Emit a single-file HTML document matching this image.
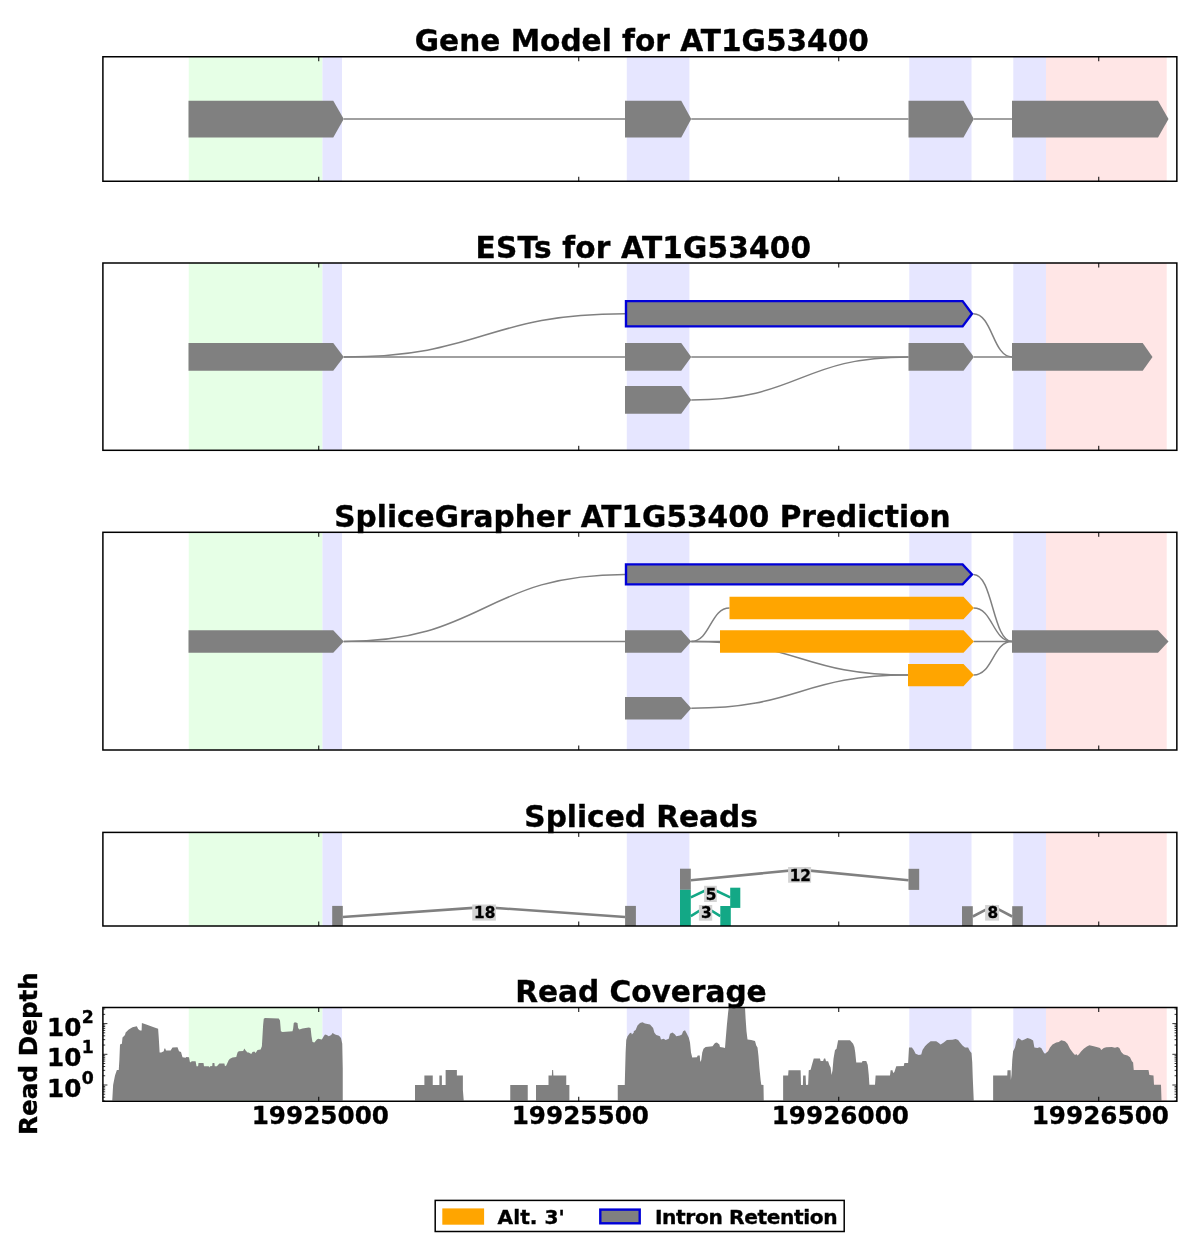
<!DOCTYPE html>
<html lang="en"><head><meta charset="utf-8"><title>SpliceGrapher AT1G53400</title>
<style>
html,body{margin:0;padding:0;background:#fff;}
body{width:1200px;height:1242px;overflow:hidden;}
svg{display:block;}
svg text{font-family:"DejaVu Sans","Liberation Sans",sans-serif;font-weight:bold;fill:#000;stroke:#000;stroke-width:0.35px;}
</style></head><body>
<svg width="1200" height="1242" viewBox="0 0 1200 1242">
<defs><clipPath id="c5"><rect x="102.9" y="1007.5" width="1073.95" height="93.75"/></clipPath></defs>
<rect width="1200" height="1242" fill="#fff"/>
<rect x="188.75" y="56.75" width="133.75" height="124.5" fill="#E6FFE6"/>
<rect x="322.5" y="56.75" width="19.5" height="124.5" fill="#E6E6FF"/>
<rect x="626.8" y="56.75" width="62.6" height="124.5" fill="#E6E6FF"/>
<rect x="909.3" y="56.75" width="62.2" height="124.5" fill="#E6E6FF"/>
<rect x="1013.3" y="56.75" width="32.7" height="124.5" fill="#E6E6FF"/>
<rect x="1046" y="56.75" width="120.7" height="124.5" fill="#FFE6E6"/>
<path d="M343.75 119.1 L625 119.1" stroke="#808080" stroke-width="1.5" fill="none"/>
<path d="M691.25 119.1 L908.5 119.1" stroke="#808080" stroke-width="1.5" fill="none"/>
<path d="M973.9 119.1 L1012 119.1" stroke="#808080" stroke-width="1.5" fill="none"/>
<polygon points="188.5,100.7 333.25,100.7 343.75,119.1 333.25,137.5 188.5,137.5" fill="#808080"/>
<polygon points="625,100.7 681.25,100.7 691.25,119.1 681.25,137.5 625,137.5" fill="#808080"/>
<polygon points="908.5,100.7 963.5,100.7 973.9,119.1 963.5,137.5 908.5,137.5" fill="#808080"/>
<polygon points="1012,100.7 1158,100.7 1168.5,119.1 1158,137.5 1012,137.5" fill="#808080"/>
<path d="M318.75 56.75 v4.5 M318.75 181.25 v-4.5" stroke="#000" stroke-width="1" fill="none"/>
<path d="M578.75 56.75 v4.5 M578.75 181.25 v-4.5" stroke="#000" stroke-width="1" fill="none"/>
<path d="M838.75 56.75 v4.5 M838.75 181.25 v-4.5" stroke="#000" stroke-width="1" fill="none"/>
<path d="M1098.75 56.75 v4.5 M1098.75 181.25 v-4.5" stroke="#000" stroke-width="1" fill="none"/>
<rect x="102.9" y="56.75" width="1073.95" height="124.5" fill="none" stroke="#000" stroke-width="1.5"/>
<text x="641.85" y="51.2" font-size="29.6" text-anchor="middle">Gene Model for AT1G53400</text>
<rect x="188.75" y="263" width="133.75" height="187.3" fill="#E6FFE6"/>
<rect x="322.5" y="263" width="19.5" height="187.3" fill="#E6E6FF"/>
<rect x="626.8" y="263" width="62.6" height="187.3" fill="#E6E6FF"/>
<rect x="909.3" y="263" width="62.2" height="187.3" fill="#E6E6FF"/>
<rect x="1013.3" y="263" width="32.7" height="187.3" fill="#E6E6FF"/>
<rect x="1046" y="263" width="120.7" height="187.3" fill="#FFE6E6"/>
<path d="M343.75 356.9 C484.38 356.9 484.38 313.75 625 313.75" stroke="#808080" stroke-width="1.5" fill="none"/>
<path d="M343.75 356.9 L625 356.9" stroke="#808080" stroke-width="1.5" fill="none"/>
<path d="M691.25 356.9 L908.5 356.9" stroke="#808080" stroke-width="1.5" fill="none"/>
<path d="M691.25 399.9 C799.88 399.9 799.88 356.9 908.5 356.9" stroke="#808080" stroke-width="1.5" fill="none"/>
<path d="M973.9 356.9 L1012 356.9" stroke="#808080" stroke-width="1.5" fill="none"/>
<path d="M973.3 313.75 C992.65 313.75 992.65 356.9 1012 356.9" stroke="#808080" stroke-width="1.5" fill="none"/>
<polygon points="188.5,343 333.25,343 343.75,356.9 333.25,370.8 188.5,370.8" fill="#808080"/>
<polygon points="625,343 681.25,343 691.25,356.9 681.25,370.8 625,370.8" fill="#808080"/>
<polygon points="625,386 681.25,386 691.25,399.9 681.25,413.8 625,413.8" fill="#808080"/>
<polygon points="908.5,343 963.5,343 973.9,356.9 963.5,370.8 908.5,370.8" fill="#808080"/>
<polygon points="1012,343 1142.7,343 1152.5,356.9 1142.7,370.8 1012,370.8" fill="#808080"/>
<polygon points="626,301.15 962.6,301.15 972,313.75 962.6,326.35 626,326.35" fill="#808080" stroke="#0000D8" stroke-width="2.4" stroke-linejoin="miter"/>
<path d="M318.75 263 v4.5 M318.75 450.3 v-4.5" stroke="#000" stroke-width="1" fill="none"/>
<path d="M578.75 263 v4.5 M578.75 450.3 v-4.5" stroke="#000" stroke-width="1" fill="none"/>
<path d="M838.75 263 v4.5 M838.75 450.3 v-4.5" stroke="#000" stroke-width="1" fill="none"/>
<path d="M1098.75 263 v4.5 M1098.75 450.3 v-4.5" stroke="#000" stroke-width="1" fill="none"/>
<rect x="102.9" y="263" width="1073.95" height="187.3" fill="none" stroke="#000" stroke-width="1.5"/>
<text x="475.6" y="257.6" font-size="29.6" textLength="335.6" lengthAdjust="spacing">ESTs for AT1G53400</text>
<rect x="188.75" y="532.3" width="133.75" height="217.7" fill="#E6FFE6"/>
<rect x="322.5" y="532.3" width="19.5" height="217.7" fill="#E6E6FF"/>
<rect x="626.8" y="532.3" width="62.6" height="217.7" fill="#E6E6FF"/>
<rect x="909.3" y="532.3" width="62.2" height="217.7" fill="#E6E6FF"/>
<rect x="1013.3" y="532.3" width="32.7" height="217.7" fill="#E6E6FF"/>
<rect x="1046" y="532.3" width="120.7" height="217.7" fill="#FFE6E6"/>
<path d="M343.75 641.5 C484.38 641.5 484.38 574.4 625 574.4" stroke="#808080" stroke-width="1.5" fill="none"/>
<path d="M343.75 641.5 L625 641.5" stroke="#808080" stroke-width="1.5" fill="none"/>
<path d="M691.25 641.5 C710.38 641.5 710.38 608 729.5 608" stroke="#808080" stroke-width="1.5" fill="none"/>
<path d="M691.25 641.5 L720 641.5" stroke="#808080" stroke-width="1.5" fill="none"/>
<path d="M691.25 641.5 C799.88 641.5 799.88 675.1 908.5 675.1" stroke="#808080" stroke-width="1.5" fill="none"/>
<path d="M691.25 708.25 C799.88 708.25 799.88 675.1 908.5 675.1" stroke="#808080" stroke-width="1.5" fill="none"/>
<path d="M973.6 574.4 C992.8 574.4 992.8 641.5 1012 641.5" stroke="#808080" stroke-width="1.5" fill="none"/>
<path d="M973.6 608 C992.8 608 992.8 641.5 1012 641.5" stroke="#808080" stroke-width="1.5" fill="none"/>
<path d="M973.6 675.1 C992.8 675.1 992.8 641.5 1012 641.5" stroke="#808080" stroke-width="1.5" fill="none"/>
<path d="M973.6 641.5 L1012 641.5" stroke="#808080" stroke-width="1.5" fill="none"/>
<polygon points="188.5,630.3 333.25,630.3 343.75,641.5 333.25,652.7 188.5,652.7" fill="#808080"/>
<polygon points="625,630.3 681.25,630.3 691.25,641.5 681.25,652.7 625,652.7" fill="#808080"/>
<polygon points="625,697.05 681.25,697.05 691.25,708.25 681.25,719.45 625,719.45" fill="#808080"/>
<polygon points="1012,630.3 1158,630.3 1168.5,641.5 1158,652.7 1012,652.7" fill="#808080"/>
<polygon points="729.5,596.8 963.5,596.8 973.9,608 963.5,619.2 729.5,619.2" fill="#FFA500"/>
<polygon points="720,630.3 963.5,630.3 973.9,641.5 963.5,652.7 720,652.7" fill="#FFA500"/>
<polygon points="908,663.9 963.5,663.9 973.9,675.1 963.5,686.3 908,686.3" fill="#FFA500"/>
<polygon points="626,564.4 962.6,564.4 972,574.4 962.6,584.4 626,584.4" fill="#808080" stroke="#0000D8" stroke-width="2.4" stroke-linejoin="miter"/>
<path d="M318.75 532.3 v4.5 M318.75 750 v-4.5" stroke="#000" stroke-width="1" fill="none"/>
<path d="M578.75 532.3 v4.5 M578.75 750 v-4.5" stroke="#000" stroke-width="1" fill="none"/>
<path d="M838.75 532.3 v4.5 M838.75 750 v-4.5" stroke="#000" stroke-width="1" fill="none"/>
<path d="M1098.75 532.3 v4.5 M1098.75 750 v-4.5" stroke="#000" stroke-width="1" fill="none"/>
<rect x="102.9" y="532.3" width="1073.95" height="217.7" fill="none" stroke="#000" stroke-width="1.5"/>
<text x="642.4" y="526.7" font-size="29.6" text-anchor="middle">SpliceGrapher AT1G53400 Prediction</text>
<rect x="188.75" y="832.4" width="133.75" height="93.6" fill="#E6FFE6"/>
<rect x="322.5" y="832.4" width="19.5" height="93.6" fill="#E6E6FF"/>
<rect x="626.8" y="832.4" width="62.6" height="93.6" fill="#E6E6FF"/>
<rect x="909.3" y="832.4" width="62.2" height="93.6" fill="#E6E6FF"/>
<rect x="1013.3" y="832.4" width="32.7" height="93.6" fill="#E6E6FF"/>
<rect x="1046" y="832.4" width="120.7" height="93.6" fill="#FFE6E6"/>
<path d="M342.7 917 L483.9 907.1 L625.1 917" stroke="#808080" stroke-width="2.6" fill="none" stroke-linejoin="miter"/>
<path d="M690.8 880.2 L799.65 869.6 L908.5 880.2" stroke="#808080" stroke-width="2.6" fill="none" stroke-linejoin="miter"/>
<path d="M972.8 916.5 L992.5 906.2 L1012.2 916.5" stroke="#808080" stroke-width="2.6" fill="none" stroke-linejoin="miter"/>
<path d="M690.8 897.4 L710.5 888 L730.2 897.4" stroke="#13A886" stroke-width="2.6" fill="none" stroke-linejoin="miter"/>
<path d="M690.8 916.2 L705.55 907 L720.3 916.2" stroke="#13A886" stroke-width="2.6" fill="none" stroke-linejoin="miter"/>
<rect x="332.2" y="905.9" width="10.6" height="20.1" fill="#808080"/>
<rect x="625.1" y="905.9" width="10.8" height="20.1" fill="#808080"/>
<rect x="680" y="868.7" width="10.8" height="21.1" fill="#808080"/>
<rect x="680" y="889.8" width="10.8" height="36.2" fill="#13A886"/>
<rect x="730.2" y="887.7" width="10.1" height="20.2" fill="#13A886"/>
<rect x="720.3" y="906" width="10.5" height="20" fill="#13A886"/>
<rect x="908.5" y="868.8" width="10.7" height="21.1" fill="#808080"/>
<rect x="962" y="906.2" width="10.8" height="19.8" fill="#808080"/>
<rect x="1012.2" y="906.2" width="10.6" height="19.8" fill="#808080"/>
<rect x="472.25" y="904.5" width="23.65" height="16.1" fill="#D3D3D3"/><text x="484.77" y="918" font-size="15.3" text-anchor="middle">18</text>
<rect x="788.1" y="867" width="23" height="15.75" fill="#D3D3D3"/><text x="800.3" y="880.9" font-size="15.3" text-anchor="middle">12</text>
<rect x="704.1" y="885.8" width="12.7" height="16.2" fill="#D3D3D3"/><text x="711.15" y="899.7" font-size="15.3" text-anchor="middle">5</text>
<rect x="698.9" y="905" width="13.3" height="15.7" fill="#D3D3D3"/><text x="706.25" y="918.3" font-size="15.3" text-anchor="middle">3</text>
<rect x="985.1" y="905" width="14" height="15.6" fill="#D3D3D3"/><text x="992.8" y="918" font-size="15.3" text-anchor="middle">8</text>
<path d="M318.75 832.4 v4.5 M318.75 926 v-4.5" stroke="#000" stroke-width="1" fill="none"/>
<path d="M578.75 832.4 v4.5 M578.75 926 v-4.5" stroke="#000" stroke-width="1" fill="none"/>
<path d="M838.75 832.4 v4.5 M838.75 926 v-4.5" stroke="#000" stroke-width="1" fill="none"/>
<path d="M1098.75 832.4 v4.5 M1098.75 926 v-4.5" stroke="#000" stroke-width="1" fill="none"/>
<rect x="102.9" y="832.4" width="1073.95" height="93.6" fill="none" stroke="#000" stroke-width="1.5"/>
<text x="641.1" y="826.8" font-size="29.6" text-anchor="middle">Spliced Reads</text>
<rect x="188.75" y="1007.5" width="133.75" height="93.75" fill="#E6FFE6"/>
<rect x="322.5" y="1007.5" width="19.5" height="93.75" fill="#E6E6FF"/>
<rect x="626.8" y="1007.5" width="62.6" height="93.75" fill="#E6E6FF"/>
<rect x="909.3" y="1007.5" width="62.2" height="93.75" fill="#E6E6FF"/>
<rect x="1013.3" y="1007.5" width="32.7" height="93.75" fill="#E6E6FF"/>
<rect x="1046" y="1007.5" width="120.7" height="93.75" fill="#FFE6E6"/>
<g clip-path="url(#c5)">
<path d="M112.25 1100.62 L113.12 1085 L115 1075.62 L116.88 1070 L118.75 1070 L119.38 1060 L120 1044.38 L121.88 1043.75 L122.5 1037.5 L125 1035 L125.62 1032.5 L128.75 1029.38 L132.5 1027.25 L136.88 1026.25 L138.12 1029 L140 1030.62 L141.62 1030.62 L141.88 1023.12 L146.25 1024.38 L153.75 1027.25 L158.12 1028.75 L158.75 1037.5 L159.62 1052.5 L161.25 1052.5 L163.75 1051.25 L164.38 1048.5 L165.25 1048.5 L166 1050.62 L170.62 1050.62 L172.5 1047.5 L177.5 1047.25 L179 1051.25 L181 1051.88 L182.5 1057.25 L185.62 1057.75 L186.25 1056.88 L189 1057.25 L190 1062.5 L191.88 1061.25 L195.62 1061.25 L196.5 1066.25 L198.12 1066.25 L198.5 1063.12 L203.5 1063.12 L204 1066.25 L208.75 1066.25 L209.38 1067.5 L210 1066.25 L212.25 1066 L212.5 1063.12 L214.38 1063.12 L214.75 1066.25 L216.88 1066.25 L219.38 1063.5 L224.38 1063.5 L225 1066.25 L226.25 1065.62 L228.75 1060 L230 1058.75 L232.5 1057.5 L236.25 1056.88 L237.5 1052.5 L238.75 1051.25 L243.12 1051 L244.38 1048.5 L245.62 1050.62 L247.5 1052.5 L248.75 1052.5 L251.25 1054 L252.5 1051.88 L254.38 1051.5 L255.62 1053.12 L257.5 1050 L260.62 1049.38 L261.88 1046.25 L263.12 1025 L263.75 1018.75 L265 1018.12 L278.75 1018.5 L280 1020.62 L280.88 1031.25 L282.5 1031.88 L292.5 1031.25 L293.12 1028.75 L293.75 1023.12 L295 1022.25 L297.5 1023.12 L298.12 1028.12 L299.38 1029.38 L302.5 1028.5 L308.75 1027.5 L310.62 1028.12 L311.5 1036.25 L312.5 1041.88 L314.38 1042.5 L316.88 1039.38 L318.12 1038.75 L321.88 1039.38 L323.75 1036.25 L325 1034.38 L326.88 1035 L328.75 1036.25 L331.25 1035 L332.5 1033.12 L335 1034.38 L338.75 1035.62 L341 1038.12 L342.25 1043.75 L342.75 1068.75 L342.75 1100.62 Z" fill="#808080"/>
<path d="M415 1100.62 L415 1085 L424.38 1085 L424.38 1075.62 L432.75 1075.62 L432.75 1085 L439.38 1085 L439.38 1075.62 L441.88 1075.62 L441.88 1085 L445.62 1085 L445.62 1070 L456.88 1070 L456.88 1075.62 L462.88 1075.62 L462.88 1090 L463.75 1100.62 Z" fill="#808080"/>
<path d="M510.25 1100.62 L510.25 1085 L527.75 1085 L527.75 1100.62 Z" fill="#808080"/>
<path d="M536 1100.62 L536 1085 L548.5 1085 L548.5 1075.62 L551.88 1075.62 L552.12 1070 L553.12 1070 L553.38 1075.62 L566.25 1075.62 L566.25 1085 L569.38 1085 L569.38 1100.62 Z" fill="#808080"/>
<path d="M617.75 1100.62 L617.75 1085 L624.75 1085 L625 1075 L625.62 1052.5 L626.25 1040 L627.5 1036.25 L630 1033.12 L631.25 1032.75 L631.88 1034.38 L633.75 1032.5 L633.75 1031.25 L635.62 1030 L637.5 1025.62 L640 1023.12 L642.5 1022.25 L645 1023.5 L650 1024.38 L653.12 1028.12 L654.38 1032.5 L656.25 1035 L660 1036.25 L661 1039.38 L663.75 1038.75 L665.62 1040 L668.75 1038.75 L670 1033.75 L672.5 1032.5 L675 1034.38 L676.25 1036.25 L680 1035.62 L681.88 1034.38 L683.12 1031.25 L685 1030.25 L686.88 1033.75 L688.75 1037.5 L690 1042.5 L691 1052.5 L692.25 1057.5 L696.88 1057.25 L697.75 1055.62 L699.75 1055.62 L700.25 1061.88 L701.25 1060 L702.25 1052.5 L703.5 1048.75 L705.62 1046.88 L712.5 1046.25 L715 1043.12 L716.88 1042.5 L719.38 1044.38 L720 1046.88 L723.12 1047.5 L725 1048.12 L725.62 1040 L726.88 1025 L728.12 1012.5 L728.75 1007.5 L745 1007.5 L745.62 1018.75 L746.5 1031.25 L747.5 1039.38 L751.25 1040 L755 1041 L756.25 1045.62 L757.5 1047.5 L758.5 1056.25 L759.38 1067.5 L760.62 1080 L761.25 1084.75 L763.5 1085 L763.75 1100.62 Z" fill="#808080"/>
<path d="M783.12 1100.62 L783.12 1075.62 L788.12 1075.38 L788.5 1070.25 L800.62 1070.25 L801 1085 L802.88 1085 L803.12 1075.62 L805.62 1075.62 L806 1085 L808.12 1084.75 L808.75 1070.25 L810.62 1069.75 L811.88 1065 L813.75 1058.5 L820 1058.5 L820.62 1061 L823.12 1061 L824 1058.5 L825.25 1058.5 L826 1061.25 L828.12 1061.25 L829.38 1065 L830.62 1067.5 L831.5 1075 L832.5 1070.62 L833.5 1058.75 L835 1050 L836.5 1048.75 L838.12 1040.25 L850 1040.25 L853.12 1043.75 L854.38 1046.88 L855.25 1052.5 L856.25 1062.5 L861.88 1062.5 L862.5 1061 L866.25 1061 L867.75 1065 L868.75 1075 L869.38 1084.75 L875 1084.75 L875.62 1075.62 L890 1075.62 L890.62 1070.25 L892.5 1070.25 L893.12 1073.12 L894.38 1071.88 L896.25 1066.25 L903.75 1066 L904.38 1063.12 L908.12 1063.12 L909 1047.5 L911.88 1047.5 L913.75 1050 L915.62 1053.75 L918.75 1055 L921.25 1054.38 L922.5 1050 L925 1046.25 L927.5 1043.75 L930.62 1041.25 L936.25 1041.25 L938.75 1043.12 L940.62 1044.38 L943.75 1042.5 L946.88 1040 L952.5 1039.75 L955.62 1039 L958.12 1040 L960 1042.5 L962.5 1045.62 L965 1047.5 L968.12 1047.5 L970 1051.25 L971.5 1053.12 L972.25 1062.5 L972.75 1077.5 L973.75 1100.62 Z" fill="#808080"/>
<path d="M993.12 1100.62 L993.12 1075.62 L1007.25 1075.62 L1007.5 1070.25 L1010.62 1070.25 L1010.88 1080 L1011.5 1075 L1012.25 1060 L1013.12 1051.25 L1015 1047.5 L1016.25 1041.25 L1018.12 1038.12 L1020.62 1039.38 L1021.88 1040.62 L1024.38 1039.38 L1027.5 1038.12 L1030.62 1039 L1033.12 1040.62 L1034.38 1047.5 L1037.5 1048.12 L1039.38 1047.25 L1041.25 1048.12 L1043.75 1052.5 L1045 1053.75 L1048.12 1051.25 L1050 1047.5 L1052.5 1044.38 L1056.25 1042.5 L1058.75 1041.88 L1061.25 1040.25 L1065 1041.25 L1067.5 1043.75 L1070 1048.75 L1073.12 1053.12 L1075 1055 L1076.5 1054 L1077.25 1055.62 L1078.75 1054.38 L1081.25 1051.25 L1083.75 1048.75 L1086.88 1046.5 L1089.38 1045.25 L1093.75 1046.25 L1097.5 1047.25 L1100 1048.12 L1101.25 1050 L1103.75 1048.12 L1106.25 1047.25 L1111.88 1046.88 L1115 1047.75 L1117.5 1046.88 L1119.38 1048.12 L1121.25 1051.88 L1123.75 1054.38 L1127.5 1055.62 L1130 1057.25 L1131.88 1061.25 L1133.12 1062.5 L1133.75 1070 L1148.5 1070 L1149.38 1075 L1153.5 1075.38 L1154 1084.75 L1161 1084.75 L1161.5 1100.62 Z" fill="#808080"/>
</g>
<path d="M102.9 1101.05 h2.3 M1176.85 1101.05 h-2.3 M102.9 1097.22 h2.3 M1176.85 1097.22 h-2.3 M102.9 1094.24 h2.3 M1176.85 1094.24 h-2.3 M102.9 1091.81 h2.3 M1176.85 1091.81 h-2.3 M102.9 1089.76 h2.3 M1176.85 1089.76 h-2.3 M102.9 1087.98 h2.3 M1176.85 1087.98 h-2.3 M102.9 1086.4 h2.3 M1176.85 1086.4 h-2.3 M102.9 1085 h4.5 M1176.85 1085 h-4.5 M102.9 1075.76 h2.3 M1176.85 1075.76 h-2.3 M102.9 1070.35 h2.3 M1176.85 1070.35 h-2.3 M102.9 1066.52 h2.3 M1176.85 1066.52 h-2.3 M102.9 1063.54 h2.3 M1176.85 1063.54 h-2.3 M102.9 1061.11 h2.3 M1176.85 1061.11 h-2.3 M102.9 1059.06 h2.3 M1176.85 1059.06 h-2.3 M102.9 1057.28 h2.3 M1176.85 1057.28 h-2.3 M102.9 1055.7 h2.3 M1176.85 1055.7 h-2.3 M102.9 1054.3 h4.5 M1176.85 1054.3 h-4.5 M102.9 1045.06 h2.3 M1176.85 1045.06 h-2.3 M102.9 1039.65 h2.3 M1176.85 1039.65 h-2.3 M102.9 1035.82 h2.3 M1176.85 1035.82 h-2.3 M102.9 1032.84 h2.3 M1176.85 1032.84 h-2.3 M102.9 1030.41 h2.3 M1176.85 1030.41 h-2.3 M102.9 1028.36 h2.3 M1176.85 1028.36 h-2.3 M102.9 1026.58 h2.3 M1176.85 1026.58 h-2.3 M102.9 1025 h2.3 M1176.85 1025 h-2.3 M102.9 1023.6 h4.5 M1176.85 1023.6 h-4.5 M102.9 1014.36 h2.3 M1176.85 1014.36 h-2.3 M102.9 1008.95 h2.3 M1176.85 1008.95 h-2.3" stroke="#000" stroke-width="0.8" fill="none"/>
<path d="M318.75 1007.5 v4.5 M318.75 1101.25 v-4.5" stroke="#000" stroke-width="1" fill="none"/>
<path d="M578.75 1007.5 v4.5 M578.75 1101.25 v-4.5" stroke="#000" stroke-width="1" fill="none"/>
<path d="M838.75 1007.5 v4.5 M838.75 1101.25 v-4.5" stroke="#000" stroke-width="1" fill="none"/>
<path d="M1098.75 1007.5 v4.5 M1098.75 1101.25 v-4.5" stroke="#000" stroke-width="1" fill="none"/>
<rect x="102.9" y="1007.5" width="1073.95" height="93.75" fill="none" stroke="#000" stroke-width="1.5"/>
<text x="640.9" y="1002" font-size="29.6" text-anchor="middle">Read Coverage</text>
<text x="320.35" y="1124.3" font-size="24.67" text-anchor="middle">19925000</text>
<text x="580.35" y="1124.3" font-size="24.67" text-anchor="middle">19925500</text>
<text x="840.35" y="1124.3" font-size="24.67" text-anchor="middle">19926000</text>
<text x="1100.35" y="1124.3" font-size="24.67" text-anchor="middle">19926500</text>
<text x="47.1" y="1035.75" font-size="24.67">10<tspan font-size="17.27" dx="0.3" dy="-13.1">2</tspan></text>
<text x="47.1" y="1066.45" font-size="24.67">10<tspan font-size="17.27" dx="0.3" dy="-13.1">1</tspan></text>
<text x="47.1" y="1097.15" font-size="24.67">10<tspan font-size="17.27" dx="0.3" dy="-13.1">0</tspan></text>
<text transform="translate(37.4,1053.5) rotate(-90)" font-size="24.67" text-anchor="middle">Read Depth</text>
<rect x="435.2" y="1200.4" width="409" height="31.1" fill="#fff" stroke="#000" stroke-width="1.5"/>
<rect x="442.3" y="1208.4" width="41.8" height="16.3" fill="#FFA500"/>
<text x="497.6" y="1223.9" font-size="20.2">Alt. 3'</text>
<rect x="600.3" y="1209.6" width="39.4" height="13.7" fill="#808080" stroke="#0000D8" stroke-width="2.4"/>
<text x="655" y="1223.9" font-size="20.2" textLength="182.6" lengthAdjust="spacing">Intron Retention</text>
</svg>
</body></html>
